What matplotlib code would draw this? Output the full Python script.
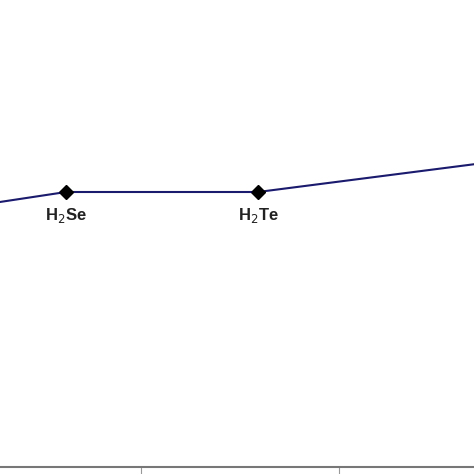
import matplotlib
matplotlib.use("Agg")
import matplotlib.pyplot as plt

x_pos = [1, 2, 3, 4.5]
values = [246, 275, 275, 312]
labels = ["H$_2$S", "H$_2$Se", "H$_2$Te", "H$_2$O"]
tick_pos = [2.39, 3.42]

fig = plt.figure(figsize=(4.74, 4.74), dpi=100)
ax = fig.add_axes([0, 7/474, 1, 1 - 7/474])
ax.plot(x_pos, values, color="#1a1a6e", lw=1.5, zorder=2)
ax.plot(x_pos, values, ls="none", marker="D", color="black", ms=7, zorder=3)
xmin, xmax = 1.656, 4.125
for xv, yv, lab in zip(x_pos, values, labels):
    if xmin < xv < xmax:
        ax.text(xv, yv - 14, lab, ha="center", va="top", fontsize=12,
                fontweight="bold", family="Liberation Sans", color="#222222")
ax.set_xlim(xmin, xmax)
ax.set_ylim(0, 467)
for s in ["top", "left", "right"]:
    ax.spines[s].set_visible(False)
ax.spines["bottom"].set_color("#777777")
ax.spines["bottom"].set_linewidth(1.5)
ax.set_xticks(tick_pos)
ax.set_xticklabels([])
ax.tick_params(axis="x", direction="out", length=7, color="#999999")
ax.set_yticks([])
fig.savefig("out.png", dpi=100)
